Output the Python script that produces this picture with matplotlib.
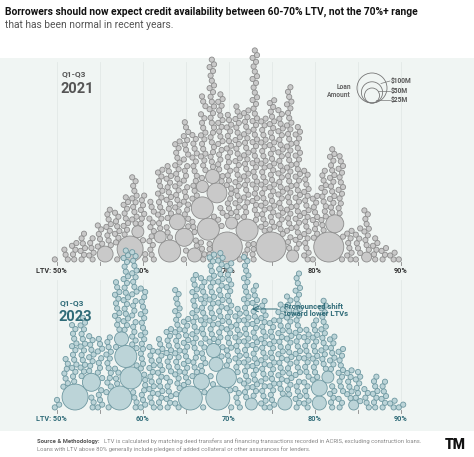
import numpy as np
import matplotlib
matplotlib.use("Agg")
import matplotlib.pyplot as plt
from matplotlib.patches import Circle, Rectangle

plt.rcParams['font.family'] = ['Roboto', 'DejaVu Sans']

# LTV columns (%), one column of small loans per percentage point
ltv = list(range(50, 91))
# number of small (~$3M) loans per LTV point
small_2021 = [1, 3, 5, 7, 6, 6, 9, 9, 10, 12, 10, 13, 15, 16, 18, 24, 20, 22, 30, 24,
              24, 28, 30, 45, 28, 32, 30, 38, 30, 22, 12, 14, 16, 16, 8, 7, 10, 6, 4, 3, 1]
small_2023 = [3, 7, 14, 15, 12, 14, 14, 17, 20, 27, 27, 15, 17, 19, 27, 17, 24, 24, 24, 24,
              27, 22, 34, 27, 26, 22, 22, 24, 32, 19, 15, 17, 15, 14, 8, 8, 5, 8, 7, 3, 2]
small_amount = 3  # $M

# large loans: (LTV %, amount $M)
big_2021 = [(58.5, 75), (55.6, 28), (63.1, 54), (69.8, 100), (74.9, 100), (81.6, 100),
            (66.0, 22), (64.8, 36), (59.4, 16), (62.0, 16), (67.6, 54), (72.1, 54),
            (64.0, 28), (66.9, 54), (68.6, 44), (82.3, 36), (77.4, 16), (68.1, 22),
            (66.9, 16), (70.3, 16), (86.0, 11)]
big_2023 = [(52.1, 75), (54.0, 36), (57.3, 64), (65.5, 64), (68.7, 64), (72.6, 16),
            (76.5, 22), (80.5, 22), (84.5, 11), (58.6, 54), (69.7, 44), (66.8, 28),
            (80.5, 28), (81.5, 16), (58.0, 54), (68.5, 22), (57.5, 22), (68.2, 22)]

tick_vals = [50, 60, 70, 80, 90]
tick_labels = ['LTV: 50%', '60%', '70%', '80%', '90%']
legend_amounts = [100, 50, 25]


# pixel layout
X0, PX = 57.0, 8.6   # x of 50%, px per LTV point


def xpos(v):
    return X0 + PX * (v - 50)


def rad(m):
    return 15.0 * np.sqrt(m / 100.0)


def drop(circles, x, r, base):
    # lowest resting position (y grows downward) without overlapping placed circles
    cands = [base - r]
    for cx, cy, cr in circles:
        d = r + cr
        dx = x - cx
        if abs(dx) < d:
            cands.append(cy - np.sqrt(d * d - dx * dx))
    for y in sorted(cands, reverse=True):
        if y > base - r + 1e-6:
            continue
        ok = True
        for cx, cy, cr in circles:
            if (x - cx) ** 2 + (y - cy) ** 2 < (r + cr) ** 2 - 1e-3:
                ok = False
                break
        if ok:
            return y
    return min(cands)


def swarm(ax, big, small, base, fc, ec):
    circles = []
    for v, m in big:
        r = rad(m)
        x = xpos(v)
        circles.append((x, drop(circles, x, r, base), r))
    rs = rad(small_amount)
    offs = [-2.2, 2.2, 0.0, -1.2, 1.2]
    remaining = list(small)
    k = 0
    while any(remaining):
        for i, v in enumerate(ltv):
            if remaining[i] > 0:
                x = xpos(v) + offs[(k + i) % len(offs)]
                circles.append((x, drop(circles, x, rs, base), rs))
                remaining[i] -= 1
        k += 1
    for x, y, r in circles:
        ax.add_patch(Circle((x, y), r, facecolor=fc, edgecolor=ec, lw=0.6, zorder=3))


fig = plt.figure(figsize=(4.74, 4.57), dpi=100)
ax = fig.add_axes([0, 0, 1, 1])
ax.set_xlim(0, 474)
ax.set_ylim(457, 0)
ax.axis('off')

ax.add_patch(Rectangle((0, 58), 474, 373, facecolor='#f0f5f3', edgecolor='none', zorder=0))

for base, lab_c in [(262, '#333333'), (410, '#2f6b78')]:
    for v in range(50, 91, 5):
        ax.plot([xpos(v), xpos(v)], [base - 200 if base == 262 else base - 130, base],
                color='#e2e9e7', lw=0.6, zorder=1)
        ax.plot([xpos(v), xpos(v)], [base, base + 3], color='#888888', lw=0.6, zorder=1)
    for v, t in zip(tick_vals, tick_labels):
        ax.text(xpos(v) + (-21 if v == 50 else 0), base + 9, t, ha='left' if v == 50 else 'center',
                va='center', fontsize=5.2, fontweight='bold', color=lab_c)

swarm(ax, big_2021, small_2021, 262, '#c9c9c9', '#8c8c8c')
swarm(ax, big_2023, small_2023, 410, '#bcd4d8', '#6e98a1')

ax.text(5, 12, 'Borrowers should now expect credit availability between 60-70% LTV, not the 70%+ range',
        fontsize=7.4, fontweight='bold', va='center', color='#111111')
ax.text(5, 25, 'that has been normal in recent years.', fontsize=7.4, va='center', color='#555555')

ax.text(62, 74, 'Q1-Q3', fontsize=6, fontweight='bold', color='#555555', va='center')
ax.text(61, 89, '2021', fontsize=10.5, fontweight='bold', color='#555555', va='center')
ax.text(60, 303, 'Q1-Q3', fontsize=6, fontweight='bold', color='#2f6b78', va='center')
ax.text(59, 317, '2023', fontsize=10.5, fontweight='bold', color='#2f6b78', va='center')

# legend
lx, lb = 372, 103
for m, ly in zip(legend_amounts, [81, 91, 100]):
    r = rad(m)
    ax.add_patch(Circle((lx, lb - r), r, facecolor='none', edgecolor='#777777', lw=0.6, zorder=4))
    ax.plot([lx + r * 0.6, 390], [lb - r - r * 0.3 if m == 100 else ly, ly], color='#777777', lw=0.5)
    ax.text(391, ly, f'${m}M', fontsize=4.8, fontweight='bold', color='#555555', va='center')
ax.text(351, 91, 'Loan\nAmount', fontsize=4.8, fontweight='bold', color='#666666',
        ha='right', va='center', linespacing=1.0)

ax.annotate('', xy=(249, 309), xytext=(280, 309),
            arrowprops=dict(arrowstyle='->', color='#2f6b78', lw=0.7))
ax.text(284, 310, 'Pronounced shift\ntoward lower LTVs', fontsize=5.5, fontweight='bold',
        color='#2f6b78', va='center', linespacing=1.0)

ax.text(37, 441, 'Source & Methodology:', fontsize=4.2, fontweight='bold', color='#555555', va='center')
ax.text(104, 441, 'LTV is calculated by matching deed transfers and financing transactions recorded in ACRIS, '
        'excluding construction loans.', fontsize=4.2, color='#888888', va='center')
ax.text(37, 449, 'Loans with LTV above 80% generally include pledges of added collateral or other '
        'assurances for lenders.', fontsize=4.2, color='#888888', va='center')
ax.text(455, 445, 'TM', fontsize=10, fontweight='black', color='#111111', ha='center', va='center')

fig.savefig('out.png', dpi=100)
